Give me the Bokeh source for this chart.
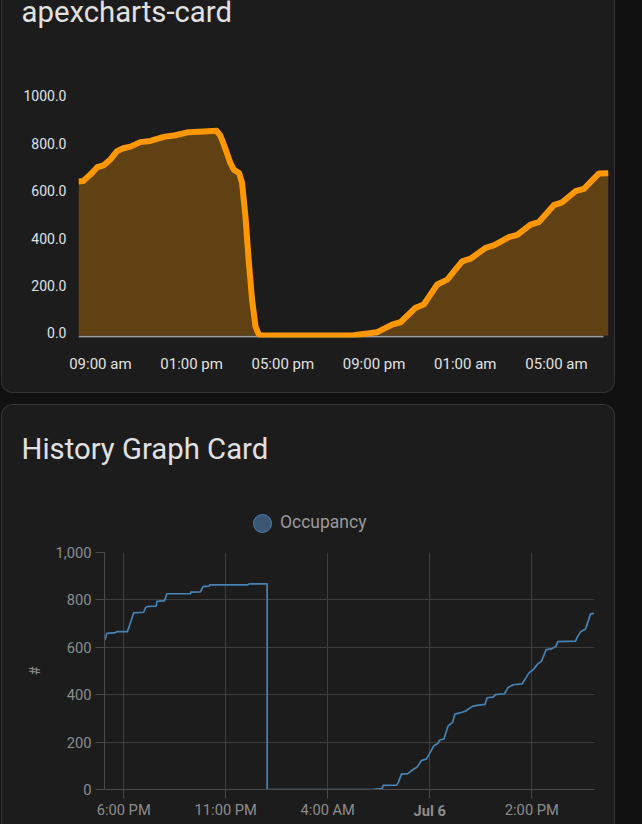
from bokeh.plotting import figure
from bokeh.layouts import column
from bokeh.models import Range1d, FixedTicker, Label, Legend, LegendItem, LinearAxis
from bokeh.embed import file_html
from bokeh.resources import INLINE

# apexcharts-card: hours since midnight of the first day, occupancy values
apex_hours = [8.04,8.25,8.56,8.86,9.14,9.44,9.73,10.0,10.32,10.75,11.19,11.78,12.29,12.87,13.53,14.09,14.26,14.44,14.70,14.85,15.08,15.21,15.36,15.50,15.65,15.80,15.93,16.02,19.96,20.10,21.14,21.79,22.16,22.82,23.18,23.77,24.21,24.86,25.23,25.89,26.25,26.91,27.28,27.86,28.22,28.88,29.25,29.83,30.20,30.86,31.28]
apex_values = [650,652,679,710,718,743,778,790,797,816,821,838,845,858,861,864,844,799,728,700,686,645,503,321,152,39,8,0,0,1,14,46,56,117,131,215,236,313,324,370,380,415,425,468,478,550,562,609,619,684,685]
apex_y_ticks = [0,200,400,600,800,1000]
apex_y_labels = ["0.0","200.0","400.0","600.0","800.0","1000.0"]
apex_x_ticks = [9,13,17,21,25,29]
apex_x_labels = ["09:00 am","01:00 pm","05:00 pm","09:00 pm","01:00 am","05:00 am"]
apex_base_hours = [8.04,31.06]
apex_base_values = [-5,-5]

# History Graph Card
hist_hours = [17.08,17.18,17.59,17.67,18.18,18.49,18.98,19.08,19.23,19.59,19.63,20.0,20.12,21.27,21.30,21.76,21.89,22.18,22.22,24.08,24.14,25.03,25.03,30.25,30.66,30.71,31.37,31.45,31.61,31.92,32.13,32.38,32.59,32.84,33.03,33.2,33.39,33.49,33.69,33.9,34.11,34.23,34.47,34.76,35.08,35.32,35.7,35.81,36.1,36.22,36.66,36.82,37.08,37.53,37.85,38.1,38.29,38.47,38.7,38.95,39.18,39.27,40.14,40.22,40.39,40.63,40.88,41.04]
hist_values = [631,659,662,666,666,745,748,769,773,774,794,797,826,826,833,834,856,858,863,863,868,868,0,1,4,17,18,28,65,67,81,95,122,129,158,185,194,209,213,269,282,318,323,331,351,355,359,387,390,400,404,429,442,446,491,509,530,541,590,593,604,624,626,642,666,677,741,743]
hist_y_ticks = [0,200,400,600,800,1000]
hist_y_labels = ["0","200","400","600","800","1,000"]
hist_x_ticks = [18,23,28,33,38]
hist_x_labels = ["6:00 PM","11:00 PM","4:00 AM"," ","2:00 PM"]
hist_bold_tick = 33
hist_bold_label = "Jul 6"

PAGE = "#111111"
CARD = "#1c1c1c"
EDGE = "#343434"
FONT = "Roboto"
SIDES = {"border-left": f"1px solid {EDGE}", "border-right": f"1px solid {EDGE}", "box-sizing": "border-box"}

def chart(height, left, right, top, bottom, xr, yr, card_css, margin):
    p = figure(width=614, height=height, output_backend="svg", toolbar_location=None,
               x_range=Range1d(*xr), y_range=Range1d(*yr), frame_align=False,
               min_border_left=left, min_border_right=right, min_border_top=top, min_border_bottom=bottom,
               margin=margin)
    p.background_fill_alpha = 0
    p.border_fill_alpha = 0
    p.outline_line_color = None
    p.styles = dict(background=CARD, **SIDES, **card_css)
    return p

def header(height, card_css, margin):
    p = figure(width=614, height=height, output_backend="svg", toolbar_location=None,
               x_range=Range1d(0, 614), y_range=Range1d(height, 0), frame_align=False,
               x_axis_location=None, y_axis_location=None, min_border=0, margin=margin)
    p.grid.visible = False
    p.background_fill_alpha = 0
    p.border_fill_alpha = 0
    p.outline_line_color = None
    p.styles = dict(background=CARD, **SIDES, **card_css)
    return p

def title_label(text, y):
    return Label(x=19, y=y, text=text, text_font=FONT, text_font_size="29.3px",
                 text_color="#e1e1e1", text_baseline="alphabetic")

# --- top card
h1 = header(77, {}, (0, 27, 0, 1))
h1.add_layout(title_label("apexcharts-card", 11))

p1 = chart(316, 76, 8, 12, 56, (8.04, 31.28), (-8.4, 1038),
           {"border-bottom": f"1px solid {EDGE}", "border-radius": "0 0 12px 12px"}, (0, 27, 0, 1))
p1.grid.visible = False
p1.varea(x=apex_hours, y1=[0]*len(apex_hours), y2=apex_values, fill_color="#ff9800", fill_alpha=0.3)
p1.line(apex_base_hours, apex_base_values, line_color="#9c9c9c", line_width=2)
p1.line(apex_hours, apex_values, line_color="#ff9800", line_width=6, line_join="round")
p1.yaxis.visible = False
p1.extra_y_ranges = {"labels": Range1d(-19.4, 1027)}
left_axis = LinearAxis(y_range_name="labels")
p1.add_layout(left_axis, "left")
left_axis.ticker = FixedTicker(ticks=apex_y_ticks)
left_axis.major_label_overrides = dict(zip(apex_y_ticks, apex_y_labels))
p1.xaxis.ticker = FixedTicker(ticks=apex_x_ticks)
p1.xaxis.major_label_overrides = dict(zip(apex_x_ticks, apex_x_labels))
for ax in (p1.xaxis[0], left_axis):
    ax.axis_line_color = None
    ax.major_tick_line_color = None
    ax.minor_tick_line_color = None
    ax.major_label_text_color = "#e1e1e1"
    ax.major_label_text_font = FONT
p1.xaxis.major_label_text_font_size = "15px"
left_axis.major_label_text_font_size = "14px"
left_axis.major_label_standoff = 6
p1.xaxis.major_label_standoff = 11

# --- bottom card
h2 = header(136, {"border-top": f"1px solid {EDGE}", "border-radius": "12px 12px 0 0"}, (11, 27, 0, 1))
h2.add_layout(title_label("History Graph Card", 43))
h2.scatter(x=[260], y=[118], marker="circle", size=18, fill_color="#3a5673", line_color="#4682b4", line_width=1)
key = h2.scatter(x=[], y=[], marker="circle", size=18, fill_color="#3a5673", line_color="#4682b4", line_width=1)
legend = Legend(items=[LegendItem(label="Occupancy", renderers=[key])], location=(258, 9),
                glyph_width=20, glyph_height=20, label_standoff=0, padding=0, margin=0,
                background_fill_alpha=0, border_line_color=None,
                label_text_color="#9a9a9a", label_text_font=FONT, label_text_font_size="17.5px")
h2.add_layout(legend, "center")

p2 = chart(284, 102, 22, 12, 35, (17.06, 41.07), (0, 1000), {}, (0, 27, 0, 1))
p2.xgrid.ticker = FixedTicker(ticks=hist_x_ticks)
p2.ygrid.ticker = FixedTicker(ticks=hist_y_ticks)
p2.grid.grid_line_color = "#3d3d3d"
p2.grid.grid_line_width = 1
p2.line(hist_hours, hist_values, line_color="#4682b4", line_width=1.7, line_join="round")
p2.yaxis.ticker = FixedTicker(ticks=hist_y_ticks)
p2.yaxis.major_label_overrides = dict(zip(hist_y_ticks, hist_y_labels))
p2.xaxis.ticker = FixedTicker(ticks=hist_x_ticks)
p2.xaxis.major_label_overrides = dict(zip(hist_x_ticks, hist_x_labels))
for ax in (p2.xaxis, p2.yaxis):
    ax.axis_line_color = "#4a4a4a"
    ax.major_tick_line_color = "#4a4a4a"
    ax.major_tick_out = 9
    ax.major_tick_in = 0
    ax.minor_tick_line_color = None
    ax.major_label_text_color = "#8c8c8c"
    ax.major_label_text_font = FONT
    ax.major_label_text_font_size = "14.7px"
p2.yaxis.axis_label = "#"
p2.yaxis.axis_label_text_color = "#8c8c8c"
p2.yaxis.axis_label_text_font = FONT
p2.yaxis.axis_label_text_font_style = "normal"
p2.yaxis.axis_label_text_font_size = "14px"
p2.yaxis.axis_label_standoff = 10
p2.yaxis.major_label_standoff = 4
p2.xaxis.major_label_standoff = 2
bold_axis = LinearAxis(ticker=FixedTicker(ticks=[hist_bold_tick]),
                       major_label_overrides={hist_bold_tick: hist_bold_label},
                       axis_line_color=None, major_tick_line_color=None, minor_tick_line_color=None,
                       major_tick_out=0, major_tick_in=0,
                       major_label_standoff=-20, major_label_text_color="#8c8c8c", major_label_text_font=FONT,
                       major_label_text_font_size="14.7px", major_label_text_font_style="bold")
p2.add_layout(bold_axis, "below")

page = column(h1, p1, h2, p2, spacing=0, width=642, height=824, styles={"background": PAGE})
open("out.html", "w").write(file_html(page, INLINE))
